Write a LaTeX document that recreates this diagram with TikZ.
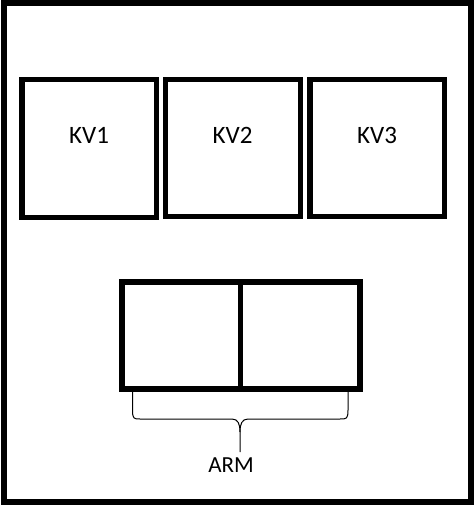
\documentclass[tikz,border=0pt]{standalone}
\usepackage{fontspec}
\setmainfont{Carlito}
\begin{document}
\begin{tikzpicture}[x=1pt,y=-1pt,
  frame/.style={draw=black,line width=6pt},
  box/.style={draw=black,line width=5.5pt,fill=white},
  lbl/.style={font=\fontsize{25}{30}\selectfont,inner sep=0pt},
  brace/.style={draw=black,line width=1pt}]
\useasboundingbox (0,0) rectangle (474,505);
\fill[white] (0,0) rectangle (474,505);
\draw[frame] (3.5,3) rectangle (470.5,502);
\draw[box] (22,79.5) rectangle (156.5,217.5);
\draw[box] (165.5,79.5) rectangle (300.5,216.5);
\draw[box] (310,79.5) rectangle (444.5,216.5);
\node[lbl] (kv1) at (89,135.5) {KV1};
\node[lbl] (kv2) at (232.5,135.5) {KV2};
\node[lbl] (kv3) at (377,135.5) {KV3};
\draw[box] (122,282) rectangle (360,389);
\draw[box] (240.5,282) -- (240.5,389);
\coordinate (bl) at (132.5,392);
\coordinate (br) at (348,392);
\coordinate (tip) at (240,452);
\draw[brace] (bl) -- (132.5,410) .. controls (132.5,419) and (134,419) .. (140,419)
  -- (232,419) .. controls (238,419) and (240,424) .. (240,432) -- (tip);
\draw[brace] (br) -- (348,410) .. controls (348,419) and (346.5,419) .. (340,419)
  -- (248,419) .. controls (242,419) and (240,424) .. (240,432);
\node[lbl,font=\fontsize{23}{27}\selectfont] (arm) at (231,465) {ARM};
\end{tikzpicture}
\end{document}
